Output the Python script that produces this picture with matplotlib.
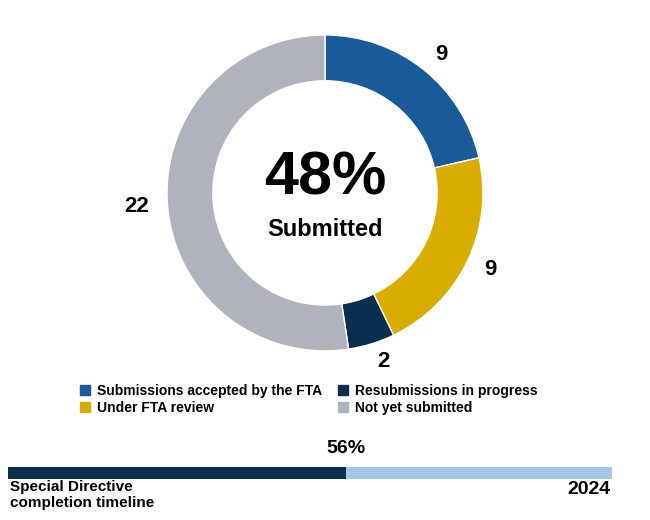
import matplotlib.pyplot as plt
from matplotlib.patches import Patch

categories = ["Submissions accepted by the FTA", "Under FTA review",
              "Resubmissions in progress", "Not yet submitted"]
values = [9, 9, 2, 22]
colors = ["#195B98", "#D9AD00", "#0B2D4E", "#B0B3BE"]
pct_submitted = 48
timeline_pct = 56

plt.rcParams['font.family'] = ['Liberation Sans', 'DejaVu Sans']
fig = plt.figure(figsize=(6.5, 5.2), dpi=100)

ax = fig.add_axes([0.257, 0.325, 0.486, 0.608])
wedges, texts = ax.pie(values, colors=colors, startangle=90, counterclock=False,
                       labels=[str(v) for v in values], labeldistance=1.12,
                       wedgeprops=dict(width=0.29, edgecolor="white", linewidth=1),
                       textprops=dict(fontsize=16, fontweight="bold"))
ax.set_xlim(-1, 1)
ax.set_ylim(-1, 1)
ax.set_aspect("equal")
ax.text(0, 0.09, f"{pct_submitted}%", ha="center", va="center", fontsize=44, fontweight="bold")
ax.text(0, -0.23, "Submitted", ha="center", va="center", fontsize=17, fontweight="bold")

handles = [Patch(color=colors[i], label=categories[i]) for i in range(4)]
fig.legend(handles=handles, loc="center", bbox_to_anchor=(0.475, 0.232), ncol=2,
           frameon=False, prop=dict(size=10, weight="bold"), handlelength=0.7,
           handleheight=0.7, columnspacing=1.2, labelspacing=0.25, handletextpad=0.5)

bx = fig.add_axes([0.012, 0.079, 0.929, 0.023])
bx.barh([0], [timeline_pct], color="#0B2D4E", height=1)
bx.barh([0], [100 - timeline_pct], left=[timeline_pct], color="#A3C5EA", height=1)
bx.set_xlim(0, 100)
bx.set_ylim(-0.5, 0.5)
bx.axis("off")
bx.text(timeline_pct, 1.3, f"{timeline_pct}%", ha="center", va="bottom", fontsize=14, fontweight="bold")
fig.text(0.015, 0.048, "Special Directive\ncompletion timeline", ha="left", va="center",
         fontsize=11, fontweight="bold", linespacing=1.1)
fig.text(0.94, 0.058, "2024", ha="right", va="center", fontsize=14, fontweight="bold")

fig.savefig("out.png", dpi=100)
